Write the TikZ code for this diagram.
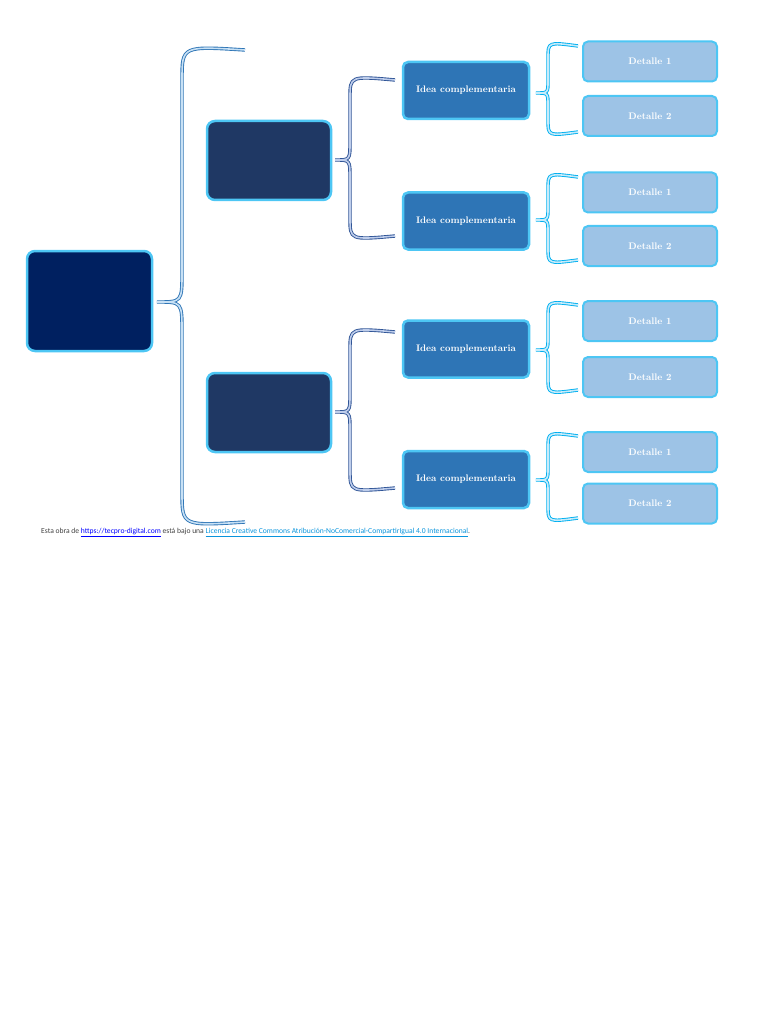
\documentclass[tikz,border=0pt]{standalone}
\usepackage{fontspec}
\newfontfamily\foot{Carlito}
\begin{document}
\begin{tikzpicture}[x=1pt,y=-1pt,
  bx/.style={draw=cyan!70!white,line width=2.5pt,rounded corners=8pt,inner sep=0pt},
  mainb/.style={bx,fill={rgb,255:red,0;green,32;blue,96}},
  midb/.style={bx,fill={rgb,255:red,31;green,56;blue,100}},
  ideab/.style={bx,rounded corners=5pt,fill={rgb,255:red,46;green,117;blue,182},text=white,font=\bfseries\fontsize{9.5}{11}\selectfont},
  detb/.style={bx,line width=2pt,rounded corners=5pt,fill={rgb,255:red,157;green,195;blue,230},text=white,font=\bfseries\fontsize{9.5}{11}\selectfont},
  bigbr/.style={draw={rgb,255:red,46;green,117;blue,182},double={rgb,255:red,200;green,225;blue,245},line width=0.9pt,double distance=1.6pt},
  midbr/.style={draw={rgb,255:red,47;green,84;blue,150},double={rgb,255:red,190;green,205;blue,235},line width=0.9pt,double distance=1.6pt},
  detbr/.style={draw={rgb,255:red,0;green,176;blue,240},double={rgb,255:red,200;green,235;blue,250},line width=0.9pt,double distance=1.6pt}]
\useasboundingbox (0,0) rectangle (768,1024);
\newcommand\mkbrace[8]{% style, xs, top, cusp, bot, xend, xc, r
  \draw[#1] (#6,#3) .. controls (#2,#3-4) .. (#2,#3+#8) -- (#2,#4-#8) .. controls (#2,#4) .. (#7,#4)
    .. controls (#2,#4) .. (#2,#4+#8) -- (#2,#5-#8) .. controls (#2,#5+4) .. (#6,#5);}
% boxes
\node[mainb,minimum width=125pt,minimum height=100pt] (main) at (89.5,301) {};
\node[midb,minimum width=124pt,minimum height=79pt] (m1) at (269,160.5) {};
\node[midb,minimum width=124pt,minimum height=79pt] (m2) at (269,412.5) {};
\foreach \n/\y in {i1/90.5,i2/221,i3/349,i4/479.5}
  \node[ideab,minimum width=126pt,minimum height=57pt] (\n) at (466,\y) {Idea complementaria};
\foreach \n/\y/\t in {d1/61.5/1,d2/116/2,d3/192.5/1,d4/246/2,d5/321/1,d6/377/2,d7/452/1,d8/503.5/2}
  \node[detb,minimum width=134pt,minimum height=40pt] (\n) at (650,\y) {Detalle \t};
% braces
\mkbrace{bigbr}{182}{50}{302}{522}{245}{157}{30}
\mkbrace{midbr}{350}{80}{160}{236}{395}{335}{18}
\mkbrace{midbr}{350}{332}{412}{488}{395}{335}{18}
\mkbrace{detbr}{548}{46}{93}{132}{578}{536}{12}
\mkbrace{detbr}{548}{177}{220}{260}{578}{536}{12}
\mkbrace{detbr}{548}{305}{350}{390}{578}{536}{12}
\mkbrace{detbr}{548}{436}{480}{518}{578}{536}{12}
% footer
\node[anchor=west,inner sep=0pt,font=\foot\fontsize{7.6}{9}\selectfont,text={rgb,255:red,64;green,64;blue,64}] (ft) at (41,533)
 {Esta obra de \textcolor{blue}{\underline{https://tecpro-digital.com}} está bajo una \textcolor{cyan!80!blue}{\underline{Licencia Creative Commons Atribución-NoComercial-CompartirIgual 4.0 Internacional}}.};
\end{tikzpicture}
\end{document}
